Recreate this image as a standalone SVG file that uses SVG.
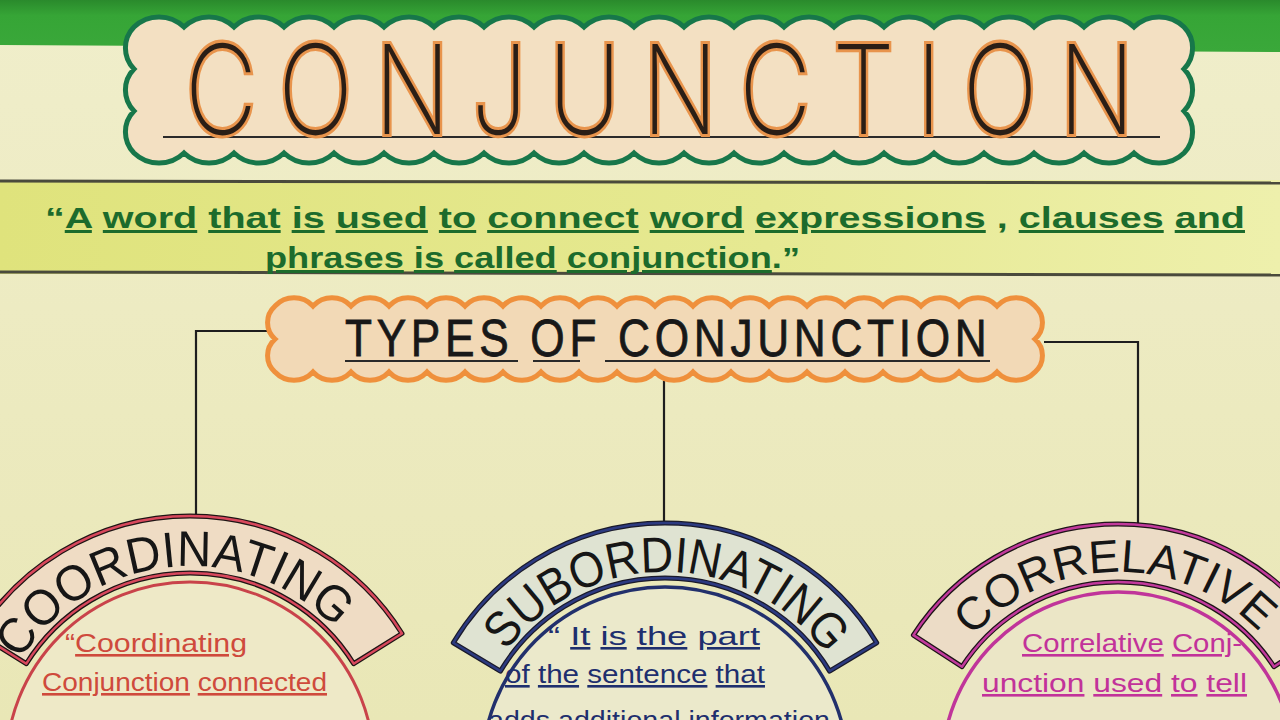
<svg xmlns="http://www.w3.org/2000/svg" width="1280" height="720" viewBox="0 0 1280 720">
<defs>
<linearGradient id="paper" x1="0" y1="0" x2="0" y2="1">
<stop offset="0" stop-color="#f0eecb"/>
<stop offset="1" stop-color="#e9e7b6"/>
</linearGradient>
<linearGradient id="band" x1="0" y1="0" x2="1" y2="0">
<stop offset="0" stop-color="#dfe37c"/>
<stop offset="0.6" stop-color="#e6e992"/>
<stop offset="1" stop-color="#eef0ac"/>
</linearGradient>
<linearGradient id="green" x1="0" y1="0" x2="0" y2="1">
<stop offset="0" stop-color="#2a8a2c"/>
<stop offset="0.3" stop-color="#36a536"/>
<stop offset="1" stop-color="#3aa83a"/>
</linearGradient>
<path id="arcCoord" d="M2.1,697.6 A200,200 0 0 1 377.9,697.6"/>
<path id="arcSub" d="M478.9,702.3 A198,198 0 0 1 851.1,702.3"/>
<path id="arcCorr" d="M933.8,701 A196,196 0 0 1 1302.2,701"/>
</defs>
<style>
.hand{font-family:"Liberation Sans","DejaVu Sans",sans-serif;}
.arc{font-family:"Liberation Sans","DejaVu Sans",sans-serif;fill:#161616;}
.u{text-decoration:underline;}
.conn{fill:none;stroke:#1e1e1e;stroke-width:2.2;}
.line{stroke:#2a2a2a;stroke-width:2.2;}
</style>

<rect width="1280" height="720" fill="url(#paper)"/>
<polygon points="0,0 1280,0 1280,52 0,45" fill="url(#green)"/>

<g id="title">
<path d="M134,27 a36,36 0 0 1 50,0 a36,36 0 0 1 50,0 a36,36 0 0 1 50,0 a36,36 0 0 1 50,0 a36,36 0 0 1 50,0 a36,36 0 0 1 50,0 a36,36 0 0 1 50,0 a36,36 0 0 1 50,0 a36,36 0 0 1 50,0 a36,36 0 0 1 50,0 a36,36 0 0 1 50,0 a36,36 0 0 1 50,0 a36,36 0 0 1 50,0 a36,36 0 0 1 50,0 a36,36 0 0 1 50,0 a36,36 0 0 1 50,0 a36,36 0 0 1 50,0 a36,36 0 0 1 50,0 a36,36 0 0 1 50,0 a36,36 0 0 1 50,0 a36,36 0 0 1 50,0 a30,30 0 0 1 0,42 a30,30 0 0 1 0,42 a30,30 0 0 1 0,42 a36,36 0 0 1 -50,0 a36,36 0 0 1 -50,0 a36,36 0 0 1 -50,0 a36,36 0 0 1 -50,0 a36,36 0 0 1 -50,0 a36,36 0 0 1 -50,0 a36,36 0 0 1 -50,0 a36,36 0 0 1 -50,0 a36,36 0 0 1 -50,0 a36,36 0 0 1 -50,0 a36,36 0 0 1 -50,0 a36,36 0 0 1 -50,0 a36,36 0 0 1 -50,0 a36,36 0 0 1 -50,0 a36,36 0 0 1 -50,0 a36,36 0 0 1 -50,0 a36,36 0 0 1 -50,0 a36,36 0 0 1 -50,0 a36,36 0 0 1 -50,0 a36,36 0 0 1 -50,0 a36,36 0 0 1 -50,0 a30,30 0 0 1 0,-42 a30,30 0 0 1 0,-42 a30,30 0 0 1 0,-42 Z" fill="#f3e0c2" stroke="#17774a" stroke-width="5"/>
<line x1="163" y1="137" x2="1160" y2="137" class="line"/>
<text transform="translate(185,134) scale(0.8,1)" x="0" y="0" font-family="Inter,'DejaVu Sans','Liberation Sans',sans-serif" font-weight="200" font-size="124" textLength="1187" lengthAdjust="spacing" fill="#2a1e16" stroke="#e8944c" stroke-width="6" paint-order="stroke">CONJUNCTION</text>
</g>

<g id="definition">
<rect x="0" y="180" width="1280" height="94" fill="url(#band)"/>
<line x1="0" y1="181" x2="1280" y2="183" stroke="#4a4a3c" stroke-width="3"/>
<line x1="0" y1="272" x2="1280" y2="275" stroke="#4a4a3c" stroke-width="3"/>
<text class="hand" x="45" y="228" font-size="30" font-weight="bold" fill="#1c6b2c" textLength="1200" lengthAdjust="spacingAndGlyphs">“<tspan class="u">A</tspan> <tspan class="u">word</tspan> <tspan class="u">that</tspan> <tspan class="u">is</tspan> <tspan class="u">used</tspan> <tspan class="u">to</tspan> <tspan class="u">connect</tspan> <tspan class="u">word</tspan> <tspan class="u">expressions</tspan> , <tspan class="u">clauses</tspan> <tspan class="u">and</tspan></text>
<text class="hand" x="265" y="268" font-size="30" font-weight="bold" fill="#1c6b2c" textLength="535" lengthAdjust="spacingAndGlyphs"><tspan class="u">phrases</tspan> <tspan class="u">is</tspan> <tspan class="u">called</tspan> <tspan class="u">conjunction</tspan>.”</text>
</g>

<g id="connectors">
<path class="conn" d="M268,331 H196 V516"/>
<path class="conn" d="M664,381 V524"/>
<path class="conn" d="M1044,342 H1138 V525"/>
</g>

<g id="types">
<path d="M275,306 a26,26 0 0 1 38,0 a26,26 0 0 1 38,0 a26,26 0 0 1 38,0 a26,26 0 0 1 38,0 a26,26 0 0 1 38,0 a26,26 0 0 1 38,0 a26,26 0 0 1 38,0 a26,26 0 0 1 38,0 a26,26 0 0 1 38,0 a26,26 0 0 1 38,0 a26,26 0 0 1 38,0 a26,26 0 0 1 38,0 a26,26 0 0 1 38,0 a26,26 0 0 1 38,0 a26,26 0 0 1 38,0 a26,26 0 0 1 38,0 a26,26 0 0 1 38,0 a26,26 0 0 1 38,0 a26,26 0 0 1 38,0 a26,26 0 0 1 38,0 a22,22 0 0 1 0,33 a22,22 0 0 1 0,33 a26,26 0 0 1 -38,0 a26,26 0 0 1 -38,0 a26,26 0 0 1 -38,0 a26,26 0 0 1 -38,0 a26,26 0 0 1 -38,0 a26,26 0 0 1 -38,0 a26,26 0 0 1 -38,0 a26,26 0 0 1 -38,0 a26,26 0 0 1 -38,0 a26,26 0 0 1 -38,0 a26,26 0 0 1 -38,0 a26,26 0 0 1 -38,0 a26,26 0 0 1 -38,0 a26,26 0 0 1 -38,0 a26,26 0 0 1 -38,0 a26,26 0 0 1 -38,0 a26,26 0 0 1 -38,0 a26,26 0 0 1 -38,0 a26,26 0 0 1 -38,0 a26,26 0 0 1 -38,0 a22,22 0 0 1 0,-33 a22,22 0 0 1 0,-33 Z" fill="#f2d9b6" stroke="#ef903c" stroke-width="5"/>
<text class="hand" transform="translate(345,356) scale(0.85,1)" x="0" y="0" font-size="52" fill="#181818" stroke="#181818" stroke-width="0.8" textLength="755" lengthAdjust="spacing">TYPES OF CONJUNCTION</text>
<line x1="345" y1="361" x2="518" y2="361" class="line"/>
<line x1="533" y1="361" x2="580" y2="361" class="line"/>
<line x1="605" y1="361" x2="990" y2="361" class="line"/>
</g>

<g id="coordinating">
<circle cx="190" cy="766" r="184" fill="#eee9c7" stroke="#c9434a" stroke-width="3"/>
<path d="M-22,633.5 A250,250 0 0 1 402,633.5 L353.7,663.7 A193,193 0 0 0 26.3,663.7 Z" fill="#efdcc4" stroke="#1e1414" stroke-width="5" stroke-linejoin="round"/>
<path d="M-22,633.5 A250,250 0 0 1 402,633.5 L353.7,663.7 A193,193 0 0 0 26.3,663.7 Z" fill="none" stroke="#d8485c" stroke-width="2.5" stroke-linejoin="round"/>
<text class="arc" font-size="50"><textPath href="#arcCoord" startOffset="224" text-anchor="middle" textLength="365" lengthAdjust="spacingAndGlyphs">COORDINATING</textPath></text>
<text class="hand" x="65" y="652" font-size="26" fill="#cf4a3c" textLength="182" lengthAdjust="spacingAndGlyphs">“<tspan class="u">Coordinating</tspan></text>
<text class="hand" x="42" y="691" font-size="26" fill="#cf4a3c" textLength="285" lengthAdjust="spacingAndGlyphs"><tspan class="u">Conjunction</tspan> <tspan class="u">connected</tspan></text>
</g>

<g id="subordinating">
<circle cx="665" cy="770" r="183" fill="#ebe9cb" stroke="#22306c" stroke-width="3.5"/>
<path d="M453.3,642.8 A247,247 0 0 1 876.7,642.8 L829.6,671.1 A192,192 0 0 0 500.4,671.1 Z" fill="#dfe3d2" stroke="#1a1a2a" stroke-width="5" stroke-linejoin="round"/>
<path d="M453.3,642.8 A247,247 0 0 1 876.7,642.8 L829.6,671.1 A192,192 0 0 0 500.4,671.1 Z" fill="none" stroke="#2c3a80" stroke-width="2.5" stroke-linejoin="round"/>
<text class="arc" font-size="50"><textPath href="#arcSub" startOffset="244" text-anchor="middle" textLength="372" lengthAdjust="spacingAndGlyphs">SUBORDINATING</textPath></text>
<text class="hand" x="548" y="645" font-size="26" fill="#1e2f6e" textLength="212" lengthAdjust="spacingAndGlyphs">“ <tspan class="u">It</tspan> <tspan class="u">is</tspan> <tspan class="u">the</tspan> <tspan class="u">part</tspan></text>
<text class="hand" x="505" y="683" font-size="26" fill="#1e2f6e" textLength="260" lengthAdjust="spacingAndGlyphs"><tspan class="u">of</tspan> <tspan class="u">the</tspan> <tspan class="u">sentence</tspan> <tspan class="u">that</tspan></text>
<text class="hand" x="488" y="729" font-size="26" fill="#1e2f6e" textLength="342" lengthAdjust="spacingAndGlyphs">adds additional information</text>
</g>

<g id="correlative">
<circle cx="1118" cy="768" r="176" fill="#ebe6c6" stroke="#c0359a" stroke-width="3.5"/>
<path d="M913.4,635.1 A244,244 0 0 1 1322.6,635.1 L1274,666.7 A186,186 0 0 0 962,666.7 Z" fill="#ecdcc6" stroke="#1e1418" stroke-width="5" stroke-linejoin="round"/>
<path d="M913.4,635.1 A244,244 0 0 1 1322.6,635.1 L1274,666.7 A186,186 0 0 0 962,666.7 Z" fill="none" stroke="#c23a9c" stroke-width="2.5" stroke-linejoin="round"/>
<text class="arc" font-size="46"><textPath href="#arcCorr" startOffset="236" text-anchor="middle" textLength="322" lengthAdjust="spacingAndGlyphs">CORRELATIVE</textPath></text>
<text class="hand" x="1022" y="652" font-size="26" fill="#c2329a" textLength="220" lengthAdjust="spacingAndGlyphs"><tspan class="u">Correlative</tspan> <tspan class="u">Conj</tspan>-</text>
<text class="hand" x="982" y="692" font-size="26" fill="#c2329a" textLength="265" lengthAdjust="spacingAndGlyphs"><tspan class="u">unction</tspan> <tspan class="u">used</tspan> <tspan class="u">to</tspan> <tspan class="u">tell</tspan></text>
</g>
</svg>
